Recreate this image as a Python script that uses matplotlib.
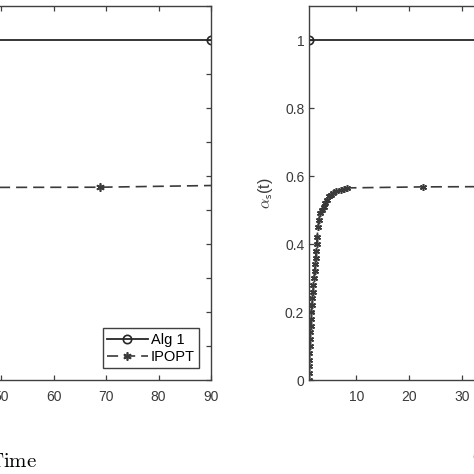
import matplotlib
matplotlib.use("Agg")
import matplotlib.pyplot as plt

plt.rcParams['font.family'] = ['Liberation Sans', 'DejaVu Sans']
plt.rcParams['mathtext.fontset'] = 'cm'
plt.rcParams['lines.scale_dashes'] = False

# ---- data ----
alg1_x = [1, 90]
alg1_y = [1, 1]

# left panel, IPOPT (only the tail is visible)
left_ipopt_x = [1, 30, 68.8, 90]
left_ipopt_y = [0.565, 0.566, 0.567, 0.572]

# right panel, IPOPT
right_ipopt_x = [1.0, 1.0, 1.05, 1.1, 1.15, 1.2, 1.25, 1.3, 1.35, 1.4, 1.5, 1.6, 1.7, 1.8,
                 1.9, 2.0, 2.1, 2.2, 2.3, 2.4, 2.5, 2.6, 2.75, 2.9, 3.1, 3.45, 3.8, 4.1,
                 4.4, 4.8, 5.2, 5.6, 6.2, 7.0, 7.6, 8.2, 22.5, 90]
right_ipopt_y = [0, 0.02, 0.04, 0.06, 0.08, 0.1, 0.12, 0.14, 0.16, 0.18, 0.2, 0.22, 0.24, 0.26,
                 0.28, 0.3, 0.32, 0.34, 0.36, 0.38, 0.4, 0.42, 0.45, 0.47, 0.49, 0.5, 0.51, 0.52,
                 0.53, 0.54, 0.545, 0.55, 0.555, 0.56, 0.563, 0.565, 0.568, 0.572]

left_xticks = [0, 10, 20, 30, 40, 50, 60, 70, 80, 90]
left_yticks = [0, 0.1, 0.2, 0.3, 0.4, 0.5, 0.6, 0.7, 0.8, 0.9, 1.0, 1.1]
right_xticks = [10, 20, 30, 40, 50, 60, 70, 80, 90]
right_yticks = [0, 0.2, 0.4, 0.6, 0.8, 1]
right_ytick_labels = ['0', '0.2', '0.4', '0.6', '0.8', '1']

line_col = '#262626'
axis_col = '#404040'

fig = plt.figure(figsize=(4.74, 4.74), dpi=100)
W = 474.0
H = 474.0
ax_w = 472 / W
ax_h = 374 / H
ax_b = (H - 380) / H

ax1 = fig.add_axes([-261 / W, ax_b, ax_w, ax_h])
ax2 = fig.add_axes([308.7 / W, ax_b, ax_w, ax_h])


def style_axes(ax):
    for s in ax.spines.values():
        s.set_color(axis_col)
        s.set_linewidth(1.0)
    ax.tick_params(direction='in', length=3.6, width=0.9, color=axis_col,
                   labelcolor='#3a3a3a', labelsize=10, top=True, right=True)
    ax.tick_params(axis='x', pad=7)
    ax.tick_params(axis='y', pad=3.2)
    ax.set_xlim(1, 90)
    ax.set_ylim(0, 1.1)


# ---- left panel ----
ax1.plot(alg1_x, alg1_y, '-', color=line_col, lw=1.3, marker='o', ms=6,
         mfc='none', mew=1.2, label='Alg 1')
ax1.plot(left_ipopt_x, left_ipopt_y, color='#3a3a3a', lw=1.2, dashes=(8, 4.3),
         marker=(6, 2, 0), ms=6, mew=1.2, markevery=[0, 1, 2], label='IPOPT')
style_axes(ax1)
ax1.set_xticks(left_xticks)
ax1.set_yticks(left_yticks)
ax1.set_yticklabels([])
leg = ax1.legend(loc='lower right', bbox_to_anchor=(0.9746, 0.032), borderaxespad=0,
                 fancybox=False, edgecolor=axis_col, framealpha=1, fontsize=10.5,
                 handlelength=2.8, handletextpad=0.2, labelspacing=0.2, borderpad=0.3)
leg.get_frame().set_linewidth(1.0)

# ---- right panel ----
ax2.plot(alg1_x, alg1_y, '-', color=line_col, lw=1.3, marker='o', ms=6,
         mfc='none', mew=1.2)
ax2.plot(right_ipopt_x, right_ipopt_y, color='#3a3a3a', lw=1.2, dashes=(8, 4.3),
         marker=(6, 2, 0), ms=5, mew=1.1, markevery=list(range(len(right_ipopt_x) - 1)))
style_axes(ax2)
ax2.set_xticks(right_xticks)
ax2.set_yticks(right_yticks)
ax2.set_yticklabels(right_ytick_labels)
ax2.set_ylabel(r'$\alpha_{\mathsf{s}}$(t)', fontsize=11.5, color='#3a3a3a')
ax2.yaxis.set_label_coords(-0.071, 0.5)

# cut-off captions under the panels
fig.text(37 / W, 1 - 467 / H, r'$\mathrm{Time}$', ha='right', va='baseline', fontsize=15)
fig.text(472.5 / W, 1 - 467 / H, r'$\mathrm{Time}$', ha='left', va='baseline', fontsize=15)

fig.savefig('out.png', dpi=100)
